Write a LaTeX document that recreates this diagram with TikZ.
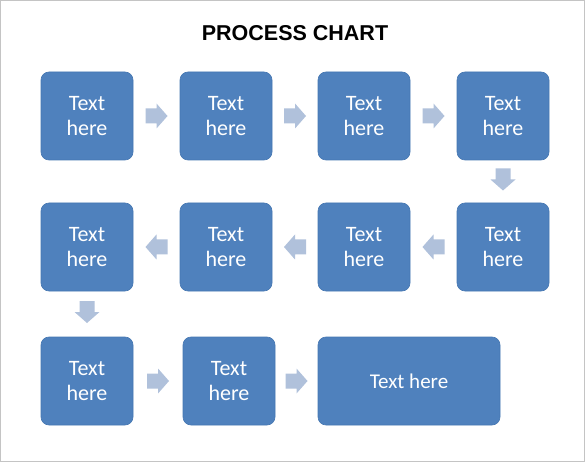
\documentclass[tikz,border=0pt]{standalone}
\usepackage{fontspec}
\setmainfont{Liberation Sans}
\newfontfamily\carlito{Carlito}
\usetikzlibrary{calc}
\definecolor{boxfill}{HTML}{4F81BD}
\definecolor{boxline}{HTML}{4677B2}
\definecolor{arrowc}{HTML}{B0C1DB}
\definecolor{framec}{HTML}{C4C4C4}
\tikzset{
  procbox/.style={draw=boxline, line width=0.6bp, fill=boxfill, rounded corners=8bp,
    minimum width=92bp, minimum height=88bp, inner sep=0pt, align=center,
    text=white, font=\carlito\fontsize{22bp}{25bp}\selectfont},
  widebox/.style={procbox, minimum width=182bp, font=\carlito\fontsize{21bp}{25bp}\selectfont},
  arrowfill/.style={fill=arrowc, draw=none}
}
\newcommand\rightarr[2]{%
  \path ($(#1.east)!0.5!(#2.west)$) coordinate (am);
  \fill[arrowfill] ([shift={(-11,-7.5)}]am) -- ([shift={(0,-7.5)}]am) -- ([shift={(0,-12.5)}]am)
    -- ([shift={(11,0)}]am) -- ([shift={(0,12.5)}]am) -- ([shift={(0,7.5)}]am)
    -- ([shift={(-11,7.5)}]am) -- cycle;}
\newcommand\leftarr[2]{%
  \path ($(#1.west)!0.5!(#2.east)$) coordinate (am);
  \fill[arrowfill] ([shift={(11,-7.5)}]am) -- ([shift={(0,-7.5)}]am) -- ([shift={(0,-12.5)}]am)
    -- ([shift={(-11,0)}]am) -- ([shift={(0,12.5)}]am) -- ([shift={(0,7.5)}]am)
    -- ([shift={(11,7.5)}]am) -- cycle;}
\newcommand\downarr[2]{%
  \path ($(#1.south)!0.5!(#2.north)$) ++(0,-2) coordinate (am);
  \fill[arrowfill] ([shift={(-7.5,-11)}]am) -- ([shift={(-7.5,0)}]am) -- ([shift={(-12.5,0)}]am)
    -- ([shift={(0,11)}]am) -- ([shift={(12.5,0)}]am) -- ([shift={(7.5,0)}]am)
    -- ([shift={(7.5,-11)}]am) -- cycle;}
\begin{document}
\begin{tikzpicture}[x=1bp, y=-1bp]
\useasboundingbox (0,0) rectangle (585,462);
\fill[white] (0,0) rectangle (585,462);
\draw[framec, line width=1.2bp] (0.6,0.6) rectangle (584.4,461.4);
\node[anchor=base, font=\bfseries\fontsize{21.5bp}{25bp}\selectfont] (title) at (295,41) {PROCESS CHART};
% row 1
\node[procbox] (b1) at (87,116) {Text\\here};
\node[procbox] (b2) at (226,116) {Text\\here};
\node[procbox] (b3) at (364,116) {Text\\here};
\node[procbox] (b4) at (503,116) {Text\\here};
% row 2
\node[procbox] (b5) at (503,247) {Text\\here};
\node[procbox] (b6) at (364,247) {Text\\here};
\node[procbox] (b7) at (226,247) {Text\\here};
\node[procbox] (b8) at (87,247) {Text\\here};
% row 3
\node[procbox] (b9) at (87,381) {Text\\here};
\node[procbox] (b10) at (229,381) {Text\\here};
\node[widebox] (b11) at (409,381) {Text here};
% arrows
\rightarr{b1}{b2}
\rightarr{b2}{b3}
\rightarr{b3}{b4}
\downarr{b4}{b5}
\leftarr{b5}{b6}
\leftarr{b6}{b7}
\leftarr{b7}{b8}
\downarr{b8}{b9}
\rightarr{b9}{b10}
\rightarr{b10}{b11}
\end{tikzpicture}
\end{document}
